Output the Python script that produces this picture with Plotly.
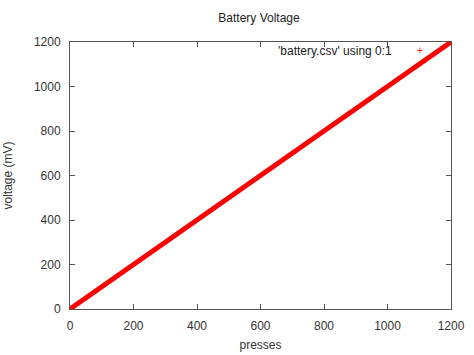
import plotly.graph_objects as go

presses = [0, 100, 200, 300, 400, 500, 600, 700, 800, 900, 1000, 1100, 1200]
voltage = [0, 100, 200, 300, 400, 500, 600, 700, 800, 900, 1000, 1100, 1200]
tick_vals = [0, 200, 400, 600, 800, 1000, 1200]
series_name = "'battery.csv' using 0:1"

FONT = "Liberation Sans"
fig = go.Figure()
fig.add_trace(go.Scatter(x=presses, y=voltage, mode="lines",
                         line=dict(color="#ff0000", width=5),
                         name=series_name, showlegend=False, cliponaxis=False))

axis_common = dict(range=[0, 1200], tickvals=tick_vals, ticks="inside", ticklen=5,
                   tickcolor="#555555", showline=True, linecolor="#555555", linewidth=1,
                   mirror="allticks", showgrid=False, zeroline=False, ticklabelstandoff=6,
                   automargin=False,
                   tickfont=dict(family=FONT, size=12, color="#333333"))
fig.update_xaxes(**axis_common, title=dict(text="presses", standoff=8,
                 font=dict(family=FONT, size=12, color="#333333")))
fig.update_yaxes(**axis_common, title=dict(text="voltage (mV)", standoff=18,
                 font=dict(family=FONT, size=12, color="#333333")))

fig.add_annotation(x=394, y=51, xref="paper", yref="paper", xanchor="right", yanchor="middle",
                   text=series_name, showarrow=False,
                   font=dict(family=FONT, size=12, color="#222222"))
fig.add_annotation(x=420, y=51, xref="paper", yref="paper", xanchor="center", yanchor="middle",
                   text="+", showarrow=False,
                   font=dict(family=FONT, size=10, color="#ff0000"))

# convert pixel positions of annotations to paper fractions
L, R, T, B, W, H = 70, 23, 42, 46, 474, 355
pw, ph = W - L - R, H - T - B
for a in fig.layout.annotations:
    a.x = (a.x - L) / pw
    a.y = 1 - (a.y - T) / ph

fig.update_layout(
    width=W, height=H,
    margin=dict(l=L, r=R, t=T, b=B, autoexpand=False),
    paper_bgcolor="white", plot_bgcolor="white",
    title=dict(text="Battery Voltage", x=259 / W, xanchor="center", y=1 - 18 / H, yanchor="middle",
               font=dict(family=FONT, size=12, color="#222222")),
)
fig.write_html("out.html")
